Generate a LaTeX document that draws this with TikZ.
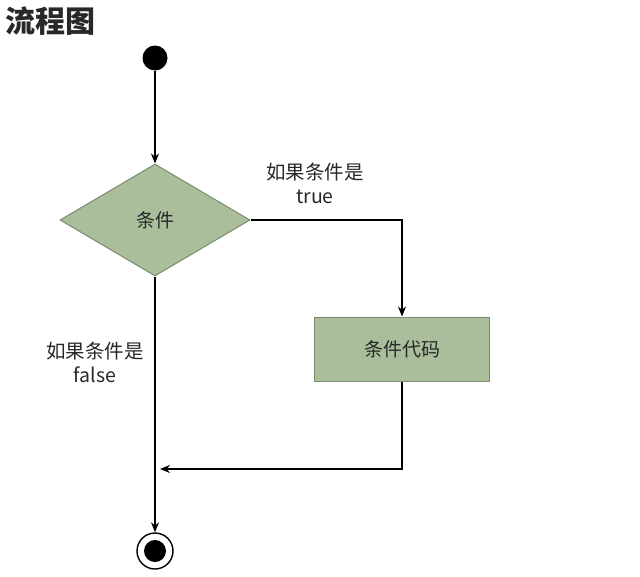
\documentclass[tikz,border=0pt]{standalone}
\usepackage{fontspec}
\setmainfont{Noto Sans CJK SC}
\usetikzlibrary{shapes.geometric,arrows.meta}
\definecolor{boxg}{RGB}{170,190,156}
\definecolor{edgeg}{RGB}{120,140,110}
\definecolor{txt}{RGB}{40,40,40}
\tikzset{
  shp/.style={fill=boxg,draw=edgeg,line width=1pt,text=txt,font=\fontsize{19}{21}\selectfont},
  conn/.style={line width=1.3pt,-{Stealth[length=10pt,width=8pt]}},
  lbl/.style={text=txt,font=\fontsize{19.5}{24}\selectfont,align=center}
}
\begin{document}
\begin{tikzpicture}[x=1pt,y=-1pt]
\useasboundingbox[fill=white] (0,0) rectangle (640,576);
\node[anchor=west,font=\fontsize{30}{32}\selectfont\bfseries,text=txt,inner sep=0] (title) at (5,21) {流程图};
\node[circle,fill=black,minimum size=25pt,inner sep=0] (start) at (155,58) {};
\node[shp,diamond,minimum width=190pt,minimum height=112pt,inner sep=0,aspect=1.7] (cond) at (155,220) {条件};
\node[shp,minimum width=175pt,minimum height=64pt] (code) at (402,349) {条件代码};
\node[circle,draw=black,line width=1.4pt,minimum size=36pt,inner sep=0] (end) at (155,551) {};
\node[circle,fill=black,minimum size=22pt,inner sep=0] (endin) at (155,551) {};
\coordinate (c1) at (402,220);
\coordinate (c2) at (402,469);
\coordinate (c3) at (160,469);
\draw[conn] (start) -- (cond.north);
\draw[conn] (cond.east) -- (c1) -- (code.north);
\draw[conn] (code.south) -- (c2) -- (c3);
\draw[conn] (cond.south) -- (end.north);
\node[lbl] (lt) at (315,183) {如果条件是\\true};
\node[lbl] (lf) at (95,362) {如果条件是\\false};
\end{tikzpicture}
\end{document}
